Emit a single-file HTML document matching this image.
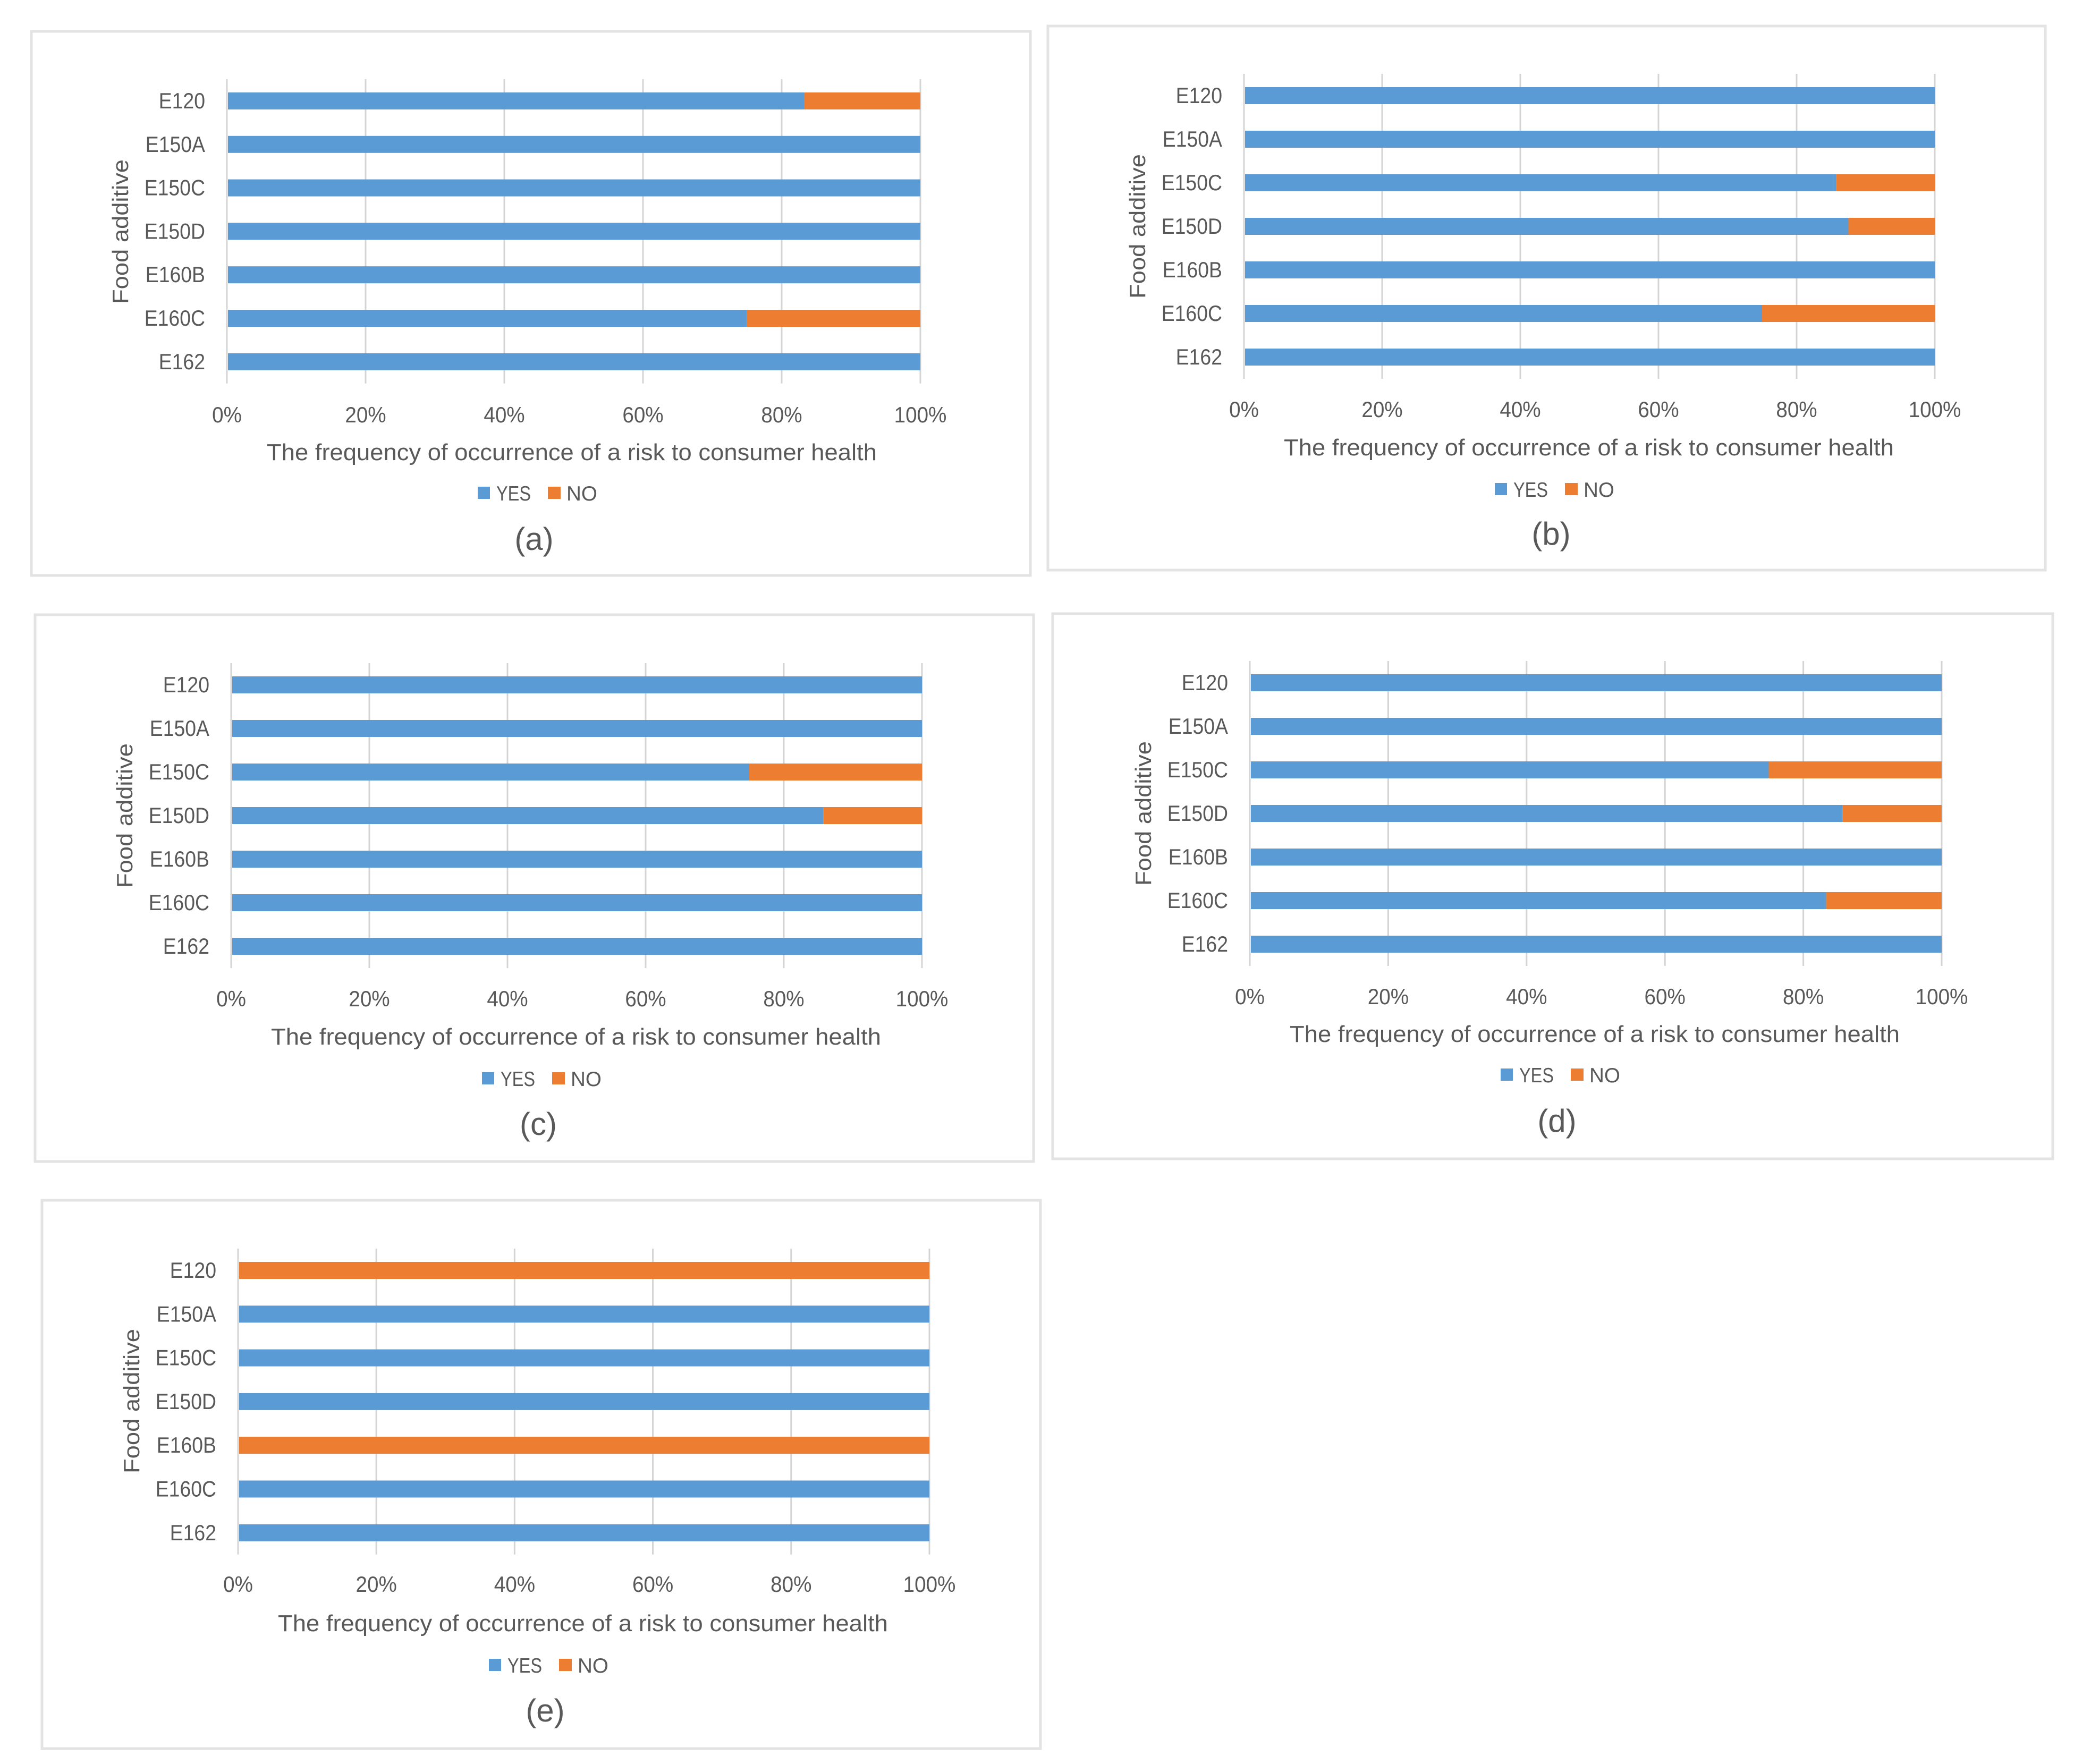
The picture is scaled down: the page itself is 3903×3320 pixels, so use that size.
<!DOCTYPE html>
<html lang="en">
<head>
<meta charset="utf-8">
<title>Food additive risk frequency charts</title>
<style>
  html, body { margin: 0; padding: 0; background: #fff; }
  svg { display: block; }
  text { font-family: "Liberation Sans", sans-serif; fill: #595959; }
</style>
</head>
<body>
<svg id="figure" xmlns="http://www.w3.org/2000/svg" width="3903" height="3320" viewBox="0 0 3903 3320"></svg>
<script>
const categories = ['E120', 'E150A', 'E150C', 'E150D', 'E160B', 'E160C', 'E162'];
const tickValues = [0, 20, 40, 60, 80, 100];
const tickLabels = ['0%', '20%', '40%', '60%', '80%', '100%'];
const yesA = [83.3, 100, 100, 100, 100, 75, 100];
const yesB = [100, 100, 85.7, 87.5, 100, 75, 100];
const yesC = [100, 100, 75, 85.7, 100, 100, 100];
const yesD = [100, 100, 75, 85.7, 100, 83.3, 100];
const yesE = [0, 100, 100, 100, 0, 100, 100];
const captions = ['(a)', '(b)', '(c)', '(d)', '(e)'];
const seriesNames = ['YES', 'NO'];
const xAxisTitle = 'The frequency of occurrence of a risk to consumer health';
const yAxisTitle = 'Food additive';

const BLUE = '#5b9bd5', ORANGE = '#ed7d31', GRID = '#d4d4d4', FRAME = '#e3e3e3';
const svg = document.getElementById('figure');
const NS = 'http://www.w3.org/2000/svg';

function mk(parent, tag, attrs, content) {
  const el = document.createElementNS(NS, tag);
  for (const k in attrs) el.setAttribute(k, attrs[k]);
  if (content !== undefined) el.textContent = content;
  parent.appendChild(el);
  return el;
}

function drawPanel(values, caption, box) {
  const xScale = v => box.x0 + (v / 100) * (box.x100 - box.x0);
  const yScale = i => box.y0 + i * box.step;
  const label = caption.replace(/[()]/g, '');

  const g = mk(svg, 'g', {});
  
  

  const frame = mk(g, 'rect', { x: box.l, y: box.t, width: box.r - box.l, height: box.b - box.t, fill: '#fff', stroke: FRAME, 'stroke-width': 5 });
  
  

  tickValues.forEach((v, i) => {
    const line = mk(g, 'line', { x1: xScale(v), x2: xScale(v), y1: yScale(0) - 41, y2: yScale(6) + 41, stroke: GRID, 'stroke-width': 3 });
    
    

    const tick = mk(g, 'text', { transform: 'translate(' + xScale(v) + ',' + (box.y0 + 605) + ') scale(.92,1)', 'text-anchor': 'middle', 'font-size': 42 }, tickLabels[i]);
    
    
  });

  categories.forEach((c, i) => {
    const yes = values[i];
    const y = yScale(i);
    if (yes > 0) {
      const bar = mk(g, 'rect', { x: xScale(0) + 2, y: y - 16, width: xScale(yes) - xScale(0) - 2, height: 32, fill: BLUE });
      
      
    }
    if (yes < 100) {
      const startX = yes > 0 ? xScale(yes) : xScale(0) + 2;
      const barNo = mk(g, 'rect', { x: startX, y: y - 16, width: xScale(100) - startX, height: 32, fill: ORANGE });
      
      
    }
    const cat = mk(g, 'text', { transform: 'translate(' + (xScale(0) - 41) + ',' + (y + 14) + ') scale(.89,1)', 'text-anchor': 'end', 'font-size': 42 }, c);
    
    
  });

  const yTitle = mk(g, 'text', { transform: 'translate(' + (xScale(0) - 186) + ',' + (box.y0 + 246) + ') rotate(-90)', 'text-anchor': 'middle', 'font-size': 42, textLength: 272, lengthAdjust: 'spacingAndGlyphs' }, yAxisTitle);
  
  

  const xTitle = mk(g, 'text', { x: xScale(0) + 649, y: box.y0 + 676 + box.titleDy, 'text-anchor': 'middle', 'font-size': 44, textLength: 1148, lengthAdjust: 'spacingAndGlyphs' }, xAxisTitle);
  
  

  const legY = box.y0 + 738 + box.legendDy;
  const swatchYes = mk(g, 'rect', { x: xScale(0) + 472, y: legY - 12, width: 23, height: 23, fill: BLUE });
  
  
  const legendYes = mk(g, 'text', { x: xScale(0) + 507, y: legY + 14, 'font-size': 39, textLength: 65, lengthAdjust: 'spacingAndGlyphs' }, seriesNames[0]);
  
  
  const swatchNo = mk(g, 'rect', { x: xScale(0) + 604, y: legY - 12, width: 24, height: 23, fill: ORANGE });
  
  
  const legendNo = mk(g, 'text', { x: xScale(0) + 639, y: legY + 14, 'font-size': 39, textLength: 58, lengthAdjust: 'spacingAndGlyphs' }, seriesNames[1]);
  
  

  const cap = mk(g, 'text', { x: xScale(0) + 578, y: box.y0 + 845 + box.captionDy, 'text-anchor': 'middle', 'font-size': 60 }, caption);
  
  
}

drawPanel(yesA, captions[0], { l: 59, t: 59, r: 1939, b: 1083, x0: 427, x100: 1732, y0: 190, step: 81.8, titleDy: 0, legendDy: 0, captionDy: 0 });
drawPanel(yesB, captions[1], { l: 1972, t: 49, r: 3849, b: 1073, x0: 2341, x100: 3641, y0: 180, step: 82, titleDy: 1, legendDy: 3, captionDy: 0 });
drawPanel(yesC, captions[2], { l: 66, t: 1157, r: 1945, b: 2186, x0: 435, x100: 1735, y0: 1289, step: 82, titleDy: 1, legendDy: 3, captionDy: 2 });
drawPanel(yesD, captions[3], { l: 1981, t: 1155, r: 3863, b: 2181, x0: 2352, x100: 3654, y0: 1285, step: 82, titleDy: 0, legendDy: 0, captionDy: 0 });
drawPanel(yesE, captions[4], { l: 79, t: 2259, r: 1958, b: 3291, x0: 448, x100: 1749, y0: 2391, step: 82.3, titleDy: 3, legendDy: 5, captionDy: 4 });
</script>
</body>
</html>
